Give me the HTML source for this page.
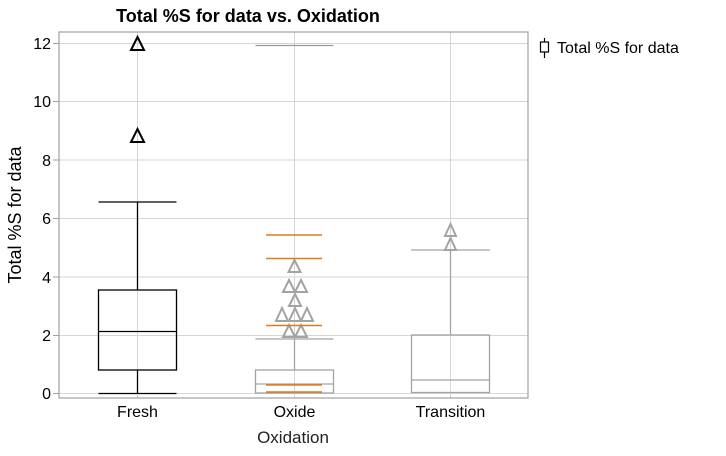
<!DOCTYPE html>
<html><head><style>body{margin:0;background:#fff}</style></head><body>
<svg width="726" height="451" xmlns="http://www.w3.org/2000/svg" font-family="Liberation Sans, sans-serif">
<text x="248" y="22" text-anchor="middle" font-size="18" font-weight="bold" fill="#000">Total %S for data vs. Oxidation</text>
<g stroke="#d6d6d6" stroke-width="1">
<line x1="59" x2="528" y1="43.5" y2="43.5"/><line x1="59" x2="528" y1="101.5" y2="101.5"/>
<line x1="59" x2="528" y1="160" y2="160"/><line x1="59" x2="528" y1="218.5" y2="218.5"/>
<line x1="59" x2="528" y1="277" y2="277"/><line x1="59" x2="528" y1="335.5" y2="335.5"/>
<line x1="59" x2="528" y1="393.5" y2="393.5"/>
<line x1="137.5" x2="137.5" y1="32" y2="398"/><line x1="294.5" x2="294.5" y1="32" y2="398"/><line x1="450.5" x2="450.5" y1="32" y2="398"/>
</g>
<rect x="59" y="32" width="469" height="366" fill="none" stroke="#a0a0a0" stroke-width="1.2"/>
<g stroke="#a0a0a0"><line x1="53" x2="59" y1="43.5" y2="43.5"/><line x1="53" x2="59" y1="101.5" y2="101.5"/><line x1="53" x2="59" y1="160" y2="160"/><line x1="53" x2="59" y1="218.5" y2="218.5"/><line x1="53" x2="59" y1="277" y2="277"/><line x1="53" x2="59" y1="335.5" y2="335.5"/><line x1="53" x2="59" y1="393.5" y2="393.5"/></g>
<g font-size="16" text-anchor="end" fill="#000">
<text x="51" y="49">12</text><text x="51" y="107">10</text><text x="51" y="166">8</text><text x="51" y="224">6</text><text x="51" y="283">4</text><text x="51" y="341">2</text><text x="51" y="399">0</text></g>
<text transform="translate(21,215) rotate(-90)" text-anchor="middle" font-size="18" fill="#000">Total %S for data</text>
<g font-size="16" text-anchor="middle" fill="#000"><text x="137.5" y="417">Fresh</text><text x="294.5" y="417">Oxide</text><text x="450.5" y="417">Transition</text></g>
<text x="293" y="443" text-anchor="middle" font-size="17" fill="#222">Oxidation</text>
<g stroke="#000" stroke-width="1.3" fill="none">
<rect x="98.5" y="290" width="78" height="80"/><line x1="98.5" x2="176.5" y1="331.5" y2="331.5"/>
<line x1="137.5" x2="137.5" y1="202" y2="290"/><line x1="137.5" x2="137.5" y1="370" y2="393.5"/>
<line x1="98.5" x2="176.5" y1="202" y2="202"/><line x1="98.5" x2="176.5" y1="393.5" y2="393.5"/>
<path d="M137.5 37 L144 50 L131 50 Z" stroke-width="2"/><path d="M137.5 129 L144 142 L131 142 Z" stroke-width="2"/>
</g>
<g stroke="#a3a3a3" stroke-width="1.3" fill="none">
<rect x="255.5" y="370" width="78" height="23"/><line x1="255.5" x2="333.5" y1="384" y2="384"/>
<line x1="294.5" x2="294.5" y1="339" y2="370"/><line x1="255.5" x2="333.5" y1="339" y2="339"/>
<line x1="255.5" x2="333.5" y1="45.5" y2="45.5" stroke="#999"/>
<g stroke-width="2">
<path d="M289 325 L295 337 L283 337 Z"/><path d="M301 325 L307 337 L295 337 Z"/>
<path d="M282 308 L288 321 L276 321 Z"/><path d="M295 308 L301 321 L289 321 Z"/><path d="M307 308 L313 321 L301 321 Z"/>
<path d="M295 294 L301 306 L289 306 Z"/>
<path d="M289 280 L295 292 L283 292 Z"/><path d="M301 280 L307 292 L295 292 Z"/>
<path d="M294.5 260 L300.5 272 L288.5 272 Z"/>
</g></g>
<g stroke="#e07b17" stroke-width="1.5">
<line x1="266" x2="322" y1="235" y2="235"/><line x1="266" x2="322" y1="258.5" y2="258.5"/>
<line x1="266" x2="322" y1="325.5" y2="325.5"/><line x1="266" x2="322" y1="385" y2="385"/><line x1="266" x2="322" y1="392" y2="392"/>
</g>
<g stroke="#a3a3a3" stroke-width="1.3" fill="none">
<rect x="411.5" y="335" width="78" height="57.5"/><line x1="411.5" x2="489.5" y1="380" y2="380"/>
<line x1="450.5" x2="450.5" y1="250" y2="335"/><line x1="411" x2="490" y1="250" y2="250"/>
<g stroke-width="2"><path d="M450.5 224 L456 236 L445 236 Z"/><path d="M450.5 238 L456 250 L445 250 Z"/></g>
</g>
<g stroke="#000" stroke-width="1.2" fill="none"><line x1="544.5" x2="544.5" y1="38" y2="58"/><rect x="540.5" y="42" width="8" height="10" fill="#fff"/></g>
<text x="557" y="53" font-size="16" fill="#000">Total %S for data</text>
</svg>
</body></html>
